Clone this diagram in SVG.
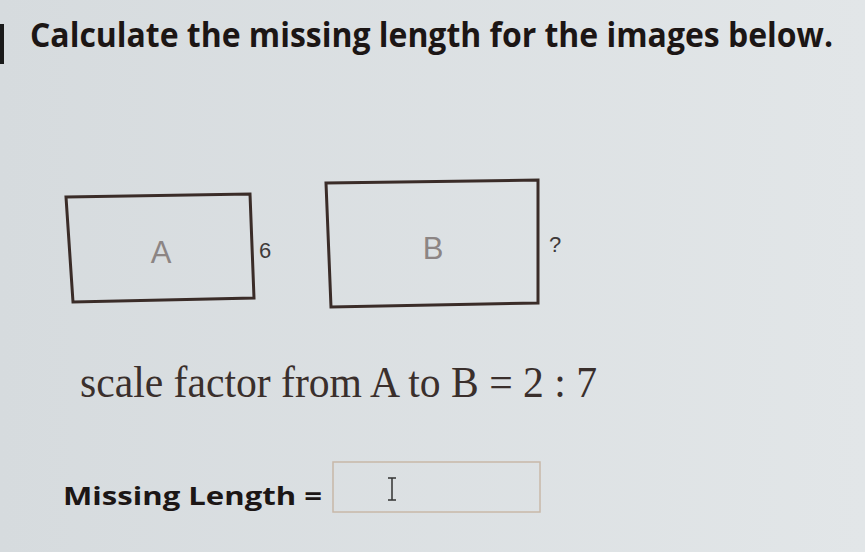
<svg xmlns="http://www.w3.org/2000/svg" width="865" height="552" viewBox="0 0 865 552">
<style>
.shape{fill:none;stroke:#3a2c28;stroke-width:3;stroke-linejoin:miter}
.lbl{font-family:"Liberation Sans",Arial,sans-serif;fill:#8c8584}
.side{font-family:"Liberation Sans",Arial,sans-serif;fill:#3f3a3a;font-size:22px}
.title{font-family:"Open Sans",sans-serif;font-weight:700;fill:#1c1615}
.serif{font-family:"Liberation Serif","Times New Roman",serif;fill:#3a2f2c}
</style>
<defs>
<linearGradient id="bg" x1="0" y1="0" x2="1" y2="0">
<stop offset="0" stop-color="#d6dbde"/>
<stop offset="1" stop-color="#e2e6e8"/>
</linearGradient>
</defs>
<rect x="0" y="0" width="865" height="552" fill="url(#bg)"/>
<rect x="0" y="24" width="4" height="40" fill="#1a1a1a"/>
<text class="title" x="30" y="47" font-size="34" textLength="803" lengthAdjust="spacingAndGlyphs">Calculate the missing length for the images below.</text>
<g id="rectA">
<polygon class="shape" points="66,197 250,194 254,298 73,302"/>
<text class="lbl" x="161" y="263" font-size="31" text-anchor="middle">A</text>
</g>
<text id="label6" class="side" x="265" y="258" text-anchor="middle">6</text>
<g id="rectB">
<polygon class="shape" points="326,183 538,180 538,303 331,307"/>
<text class="lbl" x="433" y="259" font-size="31" text-anchor="middle">B</text>
</g>
<text id="labelQ" class="side" x="555" y="252" text-anchor="middle">?</text>
<text class="serif" x="80" y="397" font-size="44" textLength="517" lengthAdjust="spacingAndGlyphs">scale factor from A to B = 2 : 7</text>
<text class="title" x="63" y="505" font-size="25" font-weight="600" fill="#3a2c28" textLength="259" lengthAdjust="spacingAndGlyphs">Missing Length =</text>
<g id="input">
<rect x="333" y="462" width="207" height="50" fill="none" stroke="#c8b8a8" stroke-width="1.5"/>
<path d="M388,478 h8 M392,478 v22 M388,500 h8" stroke="#333" stroke-width="1.5" fill="none"/>
</g>
</svg>
